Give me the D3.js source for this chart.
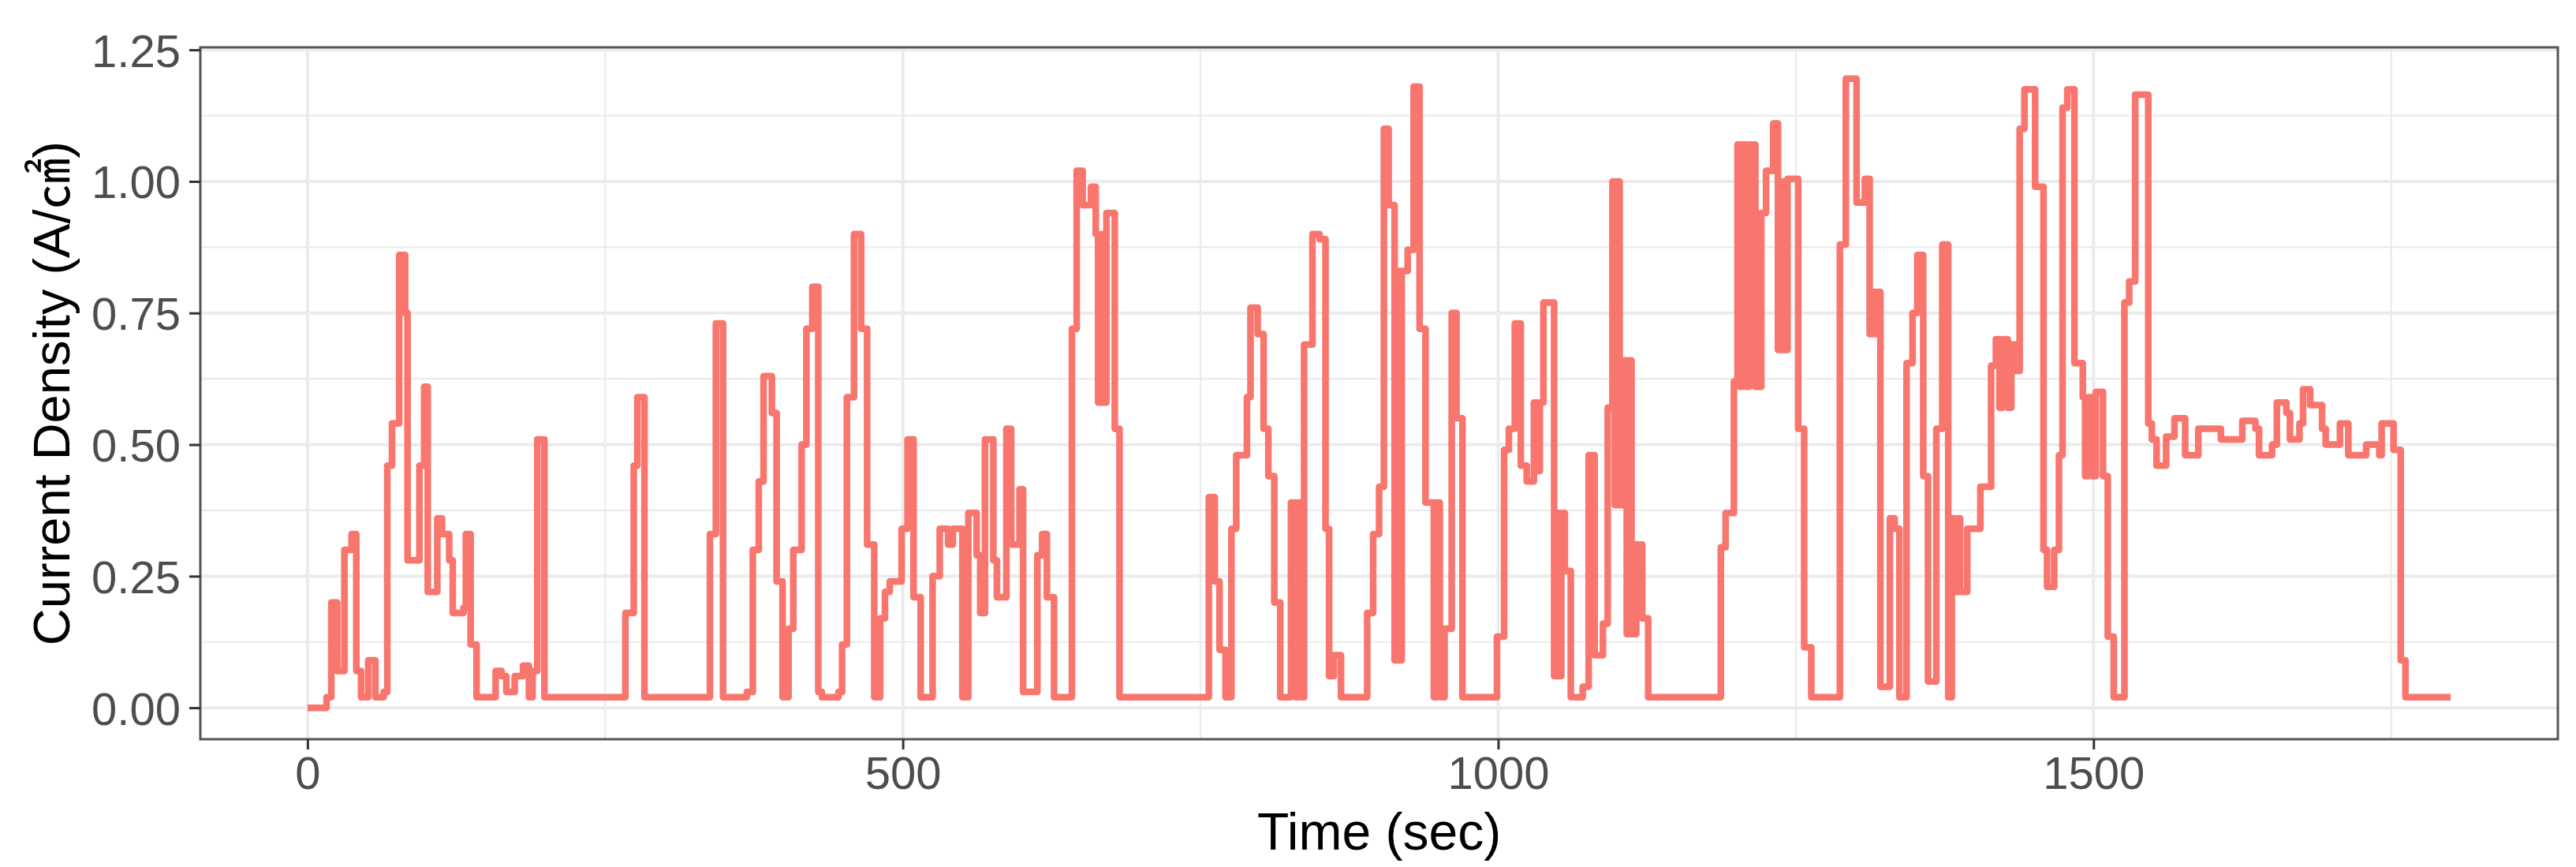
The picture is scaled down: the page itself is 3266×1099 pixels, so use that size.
<!DOCTYPE html>
<html>
<head>
<meta charset="utf-8">
<script src="https://cdn.jsdelivr.net/npm/d3@7"></script>
<style>
  html, body { margin: 0; padding: 0; background: #ffffff; }
  svg { display: block; }
</style>
</head>
<body>
<svg id="chart" width="3266" height="1099"></svg>
<script>
// ---- Data ----
const timeSec = [
  0, 16, 20, 25, 31, 37, 41, 45, 51, 57, 64, 67, 71, 77, 82, 84, 94, 98, 101, 109,
  113, 119, 122, 131, 133, 137, 142, 158, 163, 167, 174, 181, 186, 189, 193, 199,
  267, 274, 277, 283, 338, 343, 349, 369, 374, 379, 383, 390, 394, 399, 404, 408,
  415, 419, 424, 429, 432, 446, 449, 453, 459, 465, 470, 476, 481, 485, 489, 499,
  504, 509, 515, 525, 531, 538, 542, 550, 555, 562, 565, 569, 576, 579, 587, 591,
  598, 601, 613, 617, 621, 627, 642, 646, 651, 658, 662, 664, 667, 669, 671, 678,
  682, 757, 762, 766, 771, 776, 780, 789, 792, 798, 803, 807, 812, 817, 826, 830,
  832, 835, 837, 844, 850, 855, 858, 862, 868, 890, 895, 900, 904, 908, 913, 915,
  917, 919, 924, 929, 934, 939, 946, 948, 951, 955, 961, 965, 970, 999, 1005, 1009,
  1014, 1019, 1024, 1030, 1033, 1035, 1038, 1047, 1049, 1051, 1053, 1056, 1061, 1071, 1076, 1081,
  1088, 1092, 1096, 1098, 1100, 1102, 1106, 1108, 1110, 1112, 1116, 1121, 1126, 1187, 1191, 1198,
  1201, 1203, 1205, 1208, 1211, 1216, 1221, 1225, 1231, 1235, 1237, 1239, 1243, 1252, 1257, 1263,
  1287, 1292, 1301, 1308, 1312, 1314, 1317, 1319, 1321, 1329, 1333, 1337, 1343, 1348, 1352, 1357,
  1361, 1368, 1373, 1378, 1381, 1384, 1386, 1388, 1394, 1405, 1414, 1418, 1421, 1424, 1428, 1431,
  1435, 1438, 1442, 1451, 1458, 1461, 1467, 1471, 1474, 1478, 1484, 1491, 1493, 1496, 1499, 1502,
  1508, 1512, 1517, 1526, 1530, 1535, 1546, 1549, 1553, 1561, 1568, 1577, 1588, 1607, 1625, 1636,
  1639, 1650, 1654, 1662, 1665, 1673, 1676, 1682, 1692, 1695, 1707, 1714, 1729, 1740, 1742, 1752,
  1758, 1762, 1800
];
const currentDensity = [
  0.00, 0.02, 0.20, 0.07, 0.30, 0.33, 0.07, 0.02, 0.09, 0.02, 0.03, 0.46, 0.54, 0.86, 0.75, 0.28, 0.46, 0.61, 0.22, 0.36,
  0.33, 0.28, 0.18, 0.19, 0.33, 0.12, 0.02, 0.07, 0.06, 0.03, 0.06, 0.08, 0.02, 0.07, 0.51, 0.02,
  0.18, 0.46, 0.59, 0.02, 0.33, 0.73, 0.02, 0.03, 0.30, 0.43, 0.63, 0.56, 0.24, 0.02, 0.15, 0.30,
  0.50, 0.72, 0.80, 0.03, 0.02, 0.03, 0.12, 0.59, 0.90, 0.72, 0.31, 0.02, 0.17, 0.22, 0.24, 0.34,
  0.51, 0.21, 0.02, 0.25, 0.34, 0.31, 0.34, 0.02, 0.37, 0.29, 0.18, 0.51, 0.28, 0.21, 0.53, 0.31,
  0.415, 0.03, 0.29, 0.33, 0.21, 0.02, 0.72, 1.02, 0.955, 0.99, 0.90, 0.58, 0.90, 0.58, 0.94, 0.53,
  0.02, 0.40, 0.24, 0.11, 0.02, 0.34, 0.48, 0.59, 0.76, 0.71, 0.53, 0.44, 0.20, 0.02, 0.39, 0.02,
  0.39, 0.02, 0.69, 0.90, 0.89, 0.34, 0.06, 0.10, 0.02, 0.18, 0.33, 0.42, 1.10, 0.955, 0.09, 0.83,
  0.09, 0.83, 0.87, 1.18, 0.72, 0.39, 0.02, 0.39, 0.02, 0.15, 0.75, 0.55, 0.02, 0.135, 0.49, 0.53,
  0.73, 0.46, 0.43, 0.58, 0.45, 0.58, 0.77, 0.06, 0.37, 0.06, 0.37, 0.26, 0.02, 0.04, 0.48, 0.10,
  0.16, 0.57, 1.00, 0.385, 1.00, 0.385, 0.66, 0.14, 0.66, 0.14, 0.31, 0.17, 0.02, 0.305, 0.37, 0.62,
  1.07, 0.61, 1.07, 0.61, 1.07, 0.61, 0.94, 1.02, 1.11, 0.68, 1.00, 0.68, 1.005, 0.53, 0.115, 0.02,
  0.88, 1.195, 0.96, 1.005, 0.71, 0.79, 0.71, 0.79, 0.04, 0.36, 0.34, 0.02, 0.655, 0.75, 0.86, 0.44,
  0.05, 0.53, 0.88, 0.02, 0.36, 0.22, 0.36, 0.22, 0.34, 0.42, 0.65, 0.70, 0.57, 0.70, 0.57, 0.69,
  0.64, 1.10, 1.175, 0.99, 0.30, 0.23, 0.30, 0.48, 1.14, 1.175, 0.655, 0.59, 0.44, 0.59, 0.44, 0.60,
  0.44, 0.135, 0.02, 0.77, 0.81, 1.165, 0.54, 0.51, 0.46, 0.515, 0.55, 0.48, 0.53, 0.51, 0.545, 0.53,
  0.48, 0.50, 0.58, 0.56, 0.51, 0.54, 0.605, 0.575, 0.53, 0.50, 0.54, 0.48, 0.50, 0.48, 0.54, 0.49,
  0.09, 0.02, 0.02
];
const xTickValues = [0, 500, 1000, 1500];
const xMinorValues = [250, 750, 1250, 1750];
const yTickValues = [0, 0.25, 0.5, 0.75, 1.0, 1.25];
const yMinorValues = [0.125, 0.375, 0.625, 0.875, 1.125];
const xTitle = "Time (sec)";
const yTitle = "Current Density (A/㎠)";

// ---- Layout ----
const panel = { left: 254, right: 3243, top: 60, bottom: 937 };
const lineColor = "#F8766D";

const series = timeSec.map((t, i) => ({ t, v: currentDensity[i] }));

const xExt = d3.extent(timeSec);
const xPad = (xExt[1] - xExt[0]) * 0.05;
const yExt = d3.extent(currentDensity);
const yPad = (yExt[1] - yExt[0]) * 0.05;

const x = d3.scaleLinear().domain([xExt[0] - xPad, xExt[1] + xPad]).range([panel.left, panel.right]);
const y = d3.scaleLinear().domain([yExt[0] - yPad, yExt[1] + yPad]).range([panel.bottom, panel.top]);

const svg = d3.select("#chart");
svg.append("rect").attr("width", 3266).attr("height", 1099).attr("fill", "#ffffff");

const grid = svg.append("g");
// minor grid
grid.selectAll("line.ymin").data(yMinorValues).join("line")
  .attr("x1", panel.left).attr("x2", panel.right)
  .attr("y1", d => y(d)).attr("y2", d => y(d))
  .attr("stroke", "#ebebeb").attr("stroke-width", 2.2);
grid.selectAll("line.xmin").data(xMinorValues).join("line")
  .attr("y1", panel.top).attr("y2", panel.bottom)
  .attr("x1", d => x(d)).attr("x2", d => x(d))
  .attr("stroke", "#ebebeb").attr("stroke-width", 2.2);
// major grid
grid.selectAll("line.ymaj").data(yTickValues).join("line")
  .attr("x1", panel.left).attr("x2", panel.right)
  .attr("y1", d => y(d)).attr("y2", d => y(d))
  .attr("stroke", "#ebebeb").attr("stroke-width", 4);
grid.selectAll("line.xmaj").data(xTickValues).join("line")
  .attr("y1", panel.top).attr("y2", panel.bottom)
  .attr("x1", d => x(d)).attr("x2", d => x(d))
  .attr("stroke", "#ebebeb").attr("stroke-width", 4);

// data line
const line = d3.line().x(d => x(d.t)).y(d => y(d.v)).curve(d3.curveStepAfter);
svg.append("path").datum(series)
  .attr("d", line)
  .attr("fill", "none")
  .attr("stroke", lineColor)
  .attr("stroke-width", 8.5)
  .attr("stroke-linejoin", "round")
  .attr("stroke-linecap", "butt");

// panel border
svg.append("rect")
  .attr("x", panel.left).attr("y", panel.top)
  .attr("width", panel.right - panel.left).attr("height", panel.bottom - panel.top)
  .attr("fill", "none").attr("stroke", "#555555").attr("stroke-width", 3);

// axes
const fontFamily = "'Liberation Sans', Arial, Helvetica, 'Noto Sans CJK KR', sans-serif";
const xAxis = d3.axisBottom(x).tickValues(xTickValues).tickSize(13).tickPadding(12).tickFormat(d3.format("d"));
const gx = svg.append("g").attr("transform", `translate(0,${panel.bottom})`).call(xAxis);
gx.select(".domain").remove();
gx.selectAll(".tick line").attr("stroke", "#333333").attr("stroke-width", 3);
gx.selectAll(".tick text").attr("fill", "#4d4d4d").attr("font-size", 58).attr("font-family", fontFamily)
  .attr("dy", null).attr("y", 63);

const yAxis = d3.axisLeft(y).tickValues(yTickValues).tickSize(14).tickPadding(11).tickFormat(d3.format(".2f"));
const gy = svg.append("g").attr("transform", `translate(${panel.left},0)`).call(yAxis);
gy.select(".domain").remove();
gy.selectAll(".tick line").attr("stroke", "#333333").attr("stroke-width", 3);
gy.selectAll(".tick text").attr("fill", "#4d4d4d").attr("font-size", 58).attr("font-family", fontFamily)
  .attr("dy", "0.36em");

// titles
svg.append("text")
  .attr("x", (panel.left + panel.right) / 2).attr("y", 1077)
  .attr("text-anchor", "middle").attr("font-size", 66).attr("font-family", fontFamily)
  .attr("fill", "#000000").text(xTitle);

svg.append("text")
  .attr("transform", `translate(88,${(panel.top + panel.bottom) / 2}) rotate(-90)`)
  .attr("text-anchor", "middle").attr("font-size", 65).attr("font-family", fontFamily)
  .attr("fill", "#000000").text(yTitle);
</script>
</body>
</html>
